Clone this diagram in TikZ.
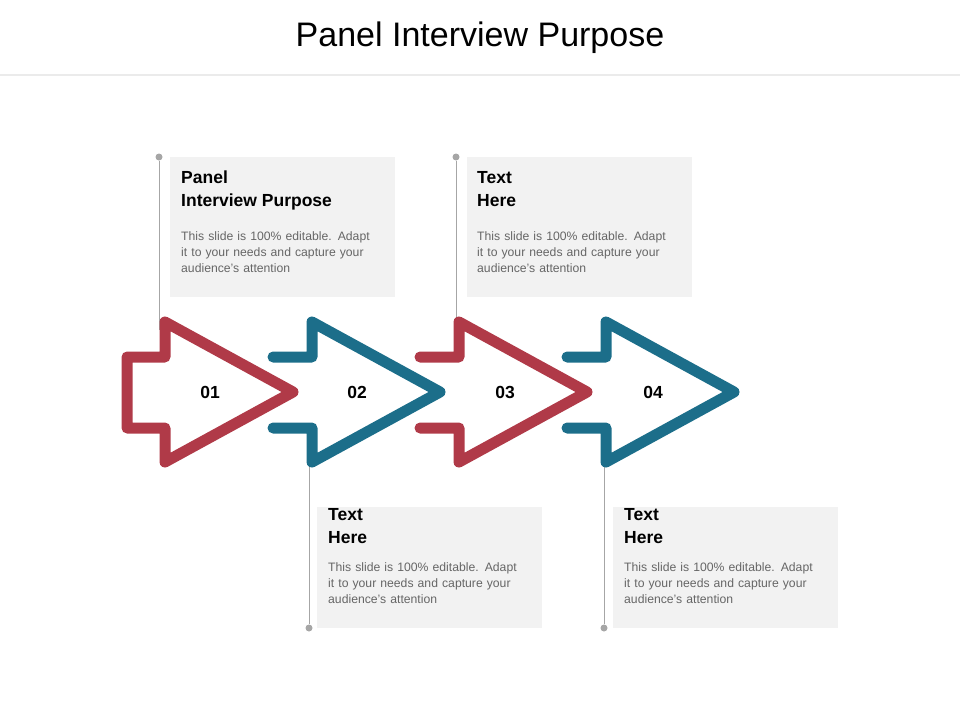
\documentclass[tikz,border=0pt]{standalone}
\usepackage{fontspec}
\setmainfont{Liberation Sans}
\definecolor{cred}{HTML}{B03A48}
\definecolor{cteal}{HTML}{1C6E8A}
\definecolor{boxg}{HTML}{F2F2F2}
\definecolor{lineg}{HTML}{A6A6A6}
\begin{document}
\begin{tikzpicture}[x=1pt,y=-1pt,
  arr/.style={line width=11pt,line join=round,line cap=round},
  ttl/.style={anchor=north west,align=left,font=\fontsize{17.5}{23}\selectfont\bfseries,text=black,inner sep=0pt},
  body/.style={anchor=north west,align=left,text width=205pt,font=\fontsize{12.2}{16}\selectfont,text=black!60,inner sep=0pt},
  num/.style={font=\fontsize{17.5}{20}\selectfont\bfseries},
  lead/.style={draw=lineg,line width=0.8pt},
  dot/.style={circle,fill=lineg,inner sep=0pt,minimum size=7pt}]
\useasboundingbox (0,0) rectangle (960,720);
\node at (480,38) {\fontsize{34}{40}\selectfont Panel Interview Purpose};
\draw[black!8,line width=2pt] (0,75) -- (960,75);
% cards
\fill[boxg] (170,157) rectangle (395,297);
\fill[boxg] (467,157) rectangle (692,297);
\fill[boxg] (317,507) rectangle (542,628);
\fill[boxg] (613,507) rectangle (838,628);
% leads
\node[dot] (d1) at (159,157) {};
\node[dot] (d2) at (456,157) {};
\node[dot] (d3) at (309,628) {};
\node[dot] (d4) at (604,628) {};
\coordinate (e1) at (159,330);
\coordinate (e2) at (456,330);
\coordinate (e3) at (309,455);
\coordinate (e4) at (604,455);
\draw[lead] (d1) -- (e1); \draw[lead] (d2) -- (e2);
\draw[lead] (d3) -- (e3); \draw[lead] (d4) -- (e4);
% arrows
\draw[arr,cred] (127,357) -- (165,357) -- (165,322) -- (293,392) -- (165,462) -- (165,428) -- (127,428) -- cycle;
\foreach \o/\c in {147/cteal,294/cred,441/cteal}{
  \draw[arr,\c,xshift=\o] (126,357) -- (165,357) -- (165,322) -- (293,392) -- (165,462) -- (165,428) -- (126,428);
}
\node[num] (n1) at (210,392) {01};
\node[num] (n2) at (357,392) {02};
\node[num] (n3) at (505,392) {03};
\node[num] (n4) at (653,392) {04};
% texts
\node[ttl] (t1) at (181,171) {Panel\\Interview Purpose};
\node[body] (b1) at (181,231) {This slide is 100\% editable. Adapt it to your needs and capture your audience's attention};
\node[ttl] (t2) at (477,171) {Text\\Here};
\node[body] (b2) at (477,231) {This slide is 100\% editable. Adapt it to your needs and capture your audience's attention};
\node[ttl] (t3) at (328,508) {Text\\Here};
\node[body] (b3) at (328,562) {This slide is 100\% editable. Adapt it to your needs and capture your audience's attention};
\node[ttl] (t4) at (624,508) {Text\\Here};
\node[body] (b4) at (624,562) {This slide is 100\% editable. Adapt it to your needs and capture your audience's attention};
\end{tikzpicture}
\end{document}
